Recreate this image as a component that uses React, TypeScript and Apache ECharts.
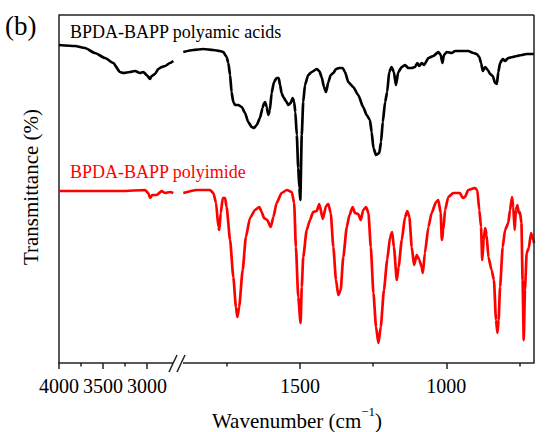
import React, { useEffect, useRef } from "react";
import * as echarts from "echarts";

// Tick values
const leftTicks = [4000, 3500, 3000];
const leftMinor = [3750, 3250];
const rightTicks = [1500, 1000];
const rightMinor = [1750, 1250, 750];

// BPDA-BAPP polyamic acids (wavenumber, transmittance a.u.)
const amicHigh: number[][] = [
  [4000, 318], [3818, 317], [3705, 315], [3591, 310], [3477, 305], [3383, 300],
  [3307, 291], [3269, 290], [3193, 291], [3136, 292], [3080, 290], [3042, 291],
  [3003, 288], [2966, 284], [2947, 287], [2909, 289], [2872, 294], [2833, 296],
  [2795, 297], [2739, 300], [2701, 302],
];
const amicLow: number[][] = [
  [1899, 311], [1865, 313], [1831, 314], [1796, 313], [1774, 312], [1762, 311],
  [1751, 306], [1745, 300], [1739, 288], [1734, 271], [1728, 261], [1722, 258],
  [1711, 258], [1699, 256], [1688, 250], [1677, 241], [1665, 236], [1657, 235],
  [1648, 238], [1637, 245], [1628, 255], [1623, 260], [1619, 261], [1614, 256],
  [1608, 248], [1603, 253], [1597, 270], [1589, 281], [1580, 285], [1573, 285],
  [1568, 278], [1563, 270], [1557, 266], [1548, 262], [1540, 258], [1532, 260],
  [1525, 265], [1520, 261], [1516, 251], [1511, 228], [1506, 195], [1502, 175],
  [1499, 163], [1494, 228], [1489, 261], [1483, 278], [1472, 288], [1460, 291],
  [1443, 294], [1434, 292], [1426, 286], [1418, 276], [1411, 271], [1403, 281],
  [1395, 288], [1386, 290], [1377, 294], [1366, 295], [1354, 295], [1346, 291],
  [1335, 281], [1318, 276], [1301, 268], [1284, 256], [1272, 248], [1261, 243],
  [1255, 231], [1249, 215], [1240, 208], [1229, 210], [1223, 221], [1217, 241],
  [1209, 261], [1202, 271], [1195, 291], [1187, 296], [1179, 291], [1172, 278],
  [1164, 291], [1152, 296], [1141, 298], [1130, 295], [1118, 295], [1107, 296],
  [1099, 300], [1092, 297], [1084, 300], [1076, 298], [1061, 305], [1044, 307],
  [1027, 311], [1019, 308], [1013, 300], [1008, 308], [998, 311], [981, 310],
  [970, 312], [953, 312], [925, 312], [907, 310], [896, 309], [887, 306],
  [881, 300], [875, 292], [867, 296], [858, 293], [850, 289], [841, 287],
  [833, 280], [827, 279], [822, 291], [816, 300], [807, 304], [799, 302],
  [788, 305], [773, 306], [759, 307], [742, 308], [725, 309], [700, 309],
];

// BPDA-BAPP polyimide
const imideHigh: number[][] = [
  [4000, 172], [3667, 172], [3288, 172], [3023, 173], [2985, 170], [2966, 165],
  [2940, 168], [2890, 168], [2833, 172], [2795, 170], [2739, 171], [2701, 170],
];
const imideLow: number[][] = [
  [1899, 170], [1853, 173], [1808, 173], [1796, 170], [1787, 160], [1779, 136],
  [1776, 133], [1771, 150], [1764, 165], [1756, 165], [1751, 156], [1739, 123],
  [1728, 86], [1719, 56], [1714, 46], [1708, 56], [1696, 93], [1685, 126],
  [1671, 145], [1654, 153], [1639, 156], [1631, 151], [1623, 145], [1612, 143],
  [1600, 136], [1591, 146], [1580, 160], [1563, 170], [1545, 173], [1528, 171],
  [1520, 160], [1514, 116], [1506, 66], [1498, 40], [1494, 76], [1489, 106],
  [1477, 133], [1466, 143], [1455, 151], [1443, 152], [1434, 159], [1422, 144],
  [1411, 157], [1403, 159], [1395, 150], [1386, 116], [1377, 83], [1369, 68],
  [1361, 73], [1352, 106], [1340, 136], [1331, 148], [1320, 156], [1312, 150],
  [1301, 149], [1292, 143], [1284, 153], [1274, 156], [1266, 150], [1258, 116],
  [1249, 70], [1240, 36], [1232, 20], [1224, 36], [1213, 73], [1202, 103],
  [1192, 126], [1185, 131], [1179, 116], [1169, 83], [1163, 96], [1152, 123],
  [1141, 146], [1133, 152], [1126, 146], [1118, 116], [1110, 98], [1101, 108],
  [1092, 103], [1084, 96], [1080, 90], [1073, 110], [1061, 136], [1050, 150],
  [1035, 161], [1027, 163], [1019, 150], [1015, 123], [1010, 133], [1004, 153],
  [993, 166], [976, 170], [953, 170], [944, 165], [936, 166], [925, 173],
  [902, 175], [894, 173], [887, 153], [881, 136], [877, 103], [872, 123],
  [867, 135], [862, 128], [856, 106], [845, 93], [837, 83], [830, 43],
  [825, 30], [821, 43], [816, 76], [807, 116], [799, 133], [788, 140],
  [782, 153], [775, 166], [771, 156], [766, 133], [762, 153], [757, 158],
  [752, 150], [748, 151], [743, 140], [739, 83], [735, 23], [731, 73],
  [725, 110], [718, 115], [710, 130], [702, 123], [700, 120],
];

const FONT = "'Liberation Serif', 'Times New Roman', serif";

export default function App() {
  const ref = useRef<HTMLDivElement>(null);
  useEffect(() => {
    if (!ref.current) return;
    const chart = echarts.init(ref.current, null, { renderer: "svg" });
    const axisColor = "#222";
    const baseX = (gridIndex: number, min: number, max: number, ticks: number[]) => ({
      type: "value" as const,
      gridIndex,
      min,
      max,
      inverse: true,
      position: "bottom" as const,
      axisLine: { show: true, lineStyle: { color: axisColor, width: 1.5 } },
      axisTick: { show: true, inside: false, length: 6, customValues: ticks, lineStyle: { color: axisColor, width: 1.5 } },
      axisLabel: {
        show: true, customValues: ticks, margin: 13, fontSize: 20, color: "#000", fontFamily: FONT,
        formatter: (v: number) => String(v),
      },
      splitLine: { show: false },
    });
    const minorX = (gridIndex: number, min: number, max: number, ticks: number[]) => ({
      type: "value" as const,
      gridIndex,
      min,
      max,
      inverse: true,
      position: "bottom" as const,
      axisLine: { show: false },
      axisTick: { show: true, inside: false, length: 3.5, customValues: ticks, lineStyle: { color: axisColor, width: 1.5 } },
      axisLabel: { show: false },
      splitLine: { show: false },
    });
    const lineSeries = (xi: number, yi: number, data: number[][], color: string, z: number) => ({
      type: "line" as const,
      xAxisIndex: xi,
      yAxisIndex: yi,
      data,
      showSymbol: false,
      symbol: "none",
      smooth: 0.2,
      smoothMonotone: "x" as const,
      lineStyle: { color, width: 2.7 },
      z,
    });
    chart.setOption({
      animation: false,
      backgroundColor: "#fff",
      grid: [
        { left: 59, top: 15, width: 114.4, height: 348 },
        { left: 183, top: 15, width: 351, height: 348 },
      ],
      xAxis: [
        baseX(0, 2700, 4000, leftTicks),
        minorX(0, 2700, 4000, leftMinor),
        baseX(1, 700, 1900, rightTicks),
        minorX(1, 700, 1900, rightMinor),
      ],
      yAxis: [
        {
          type: "value", gridIndex: 0, min: 0, max: 348,
          axisLine: { show: true, lineStyle: { color: axisColor, width: 1.5 } },
          axisTick: { show: false }, axisLabel: { show: false }, splitLine: { show: false },
        },
        {
          type: "value", gridIndex: 1, min: 0, max: 348, show: false,
          splitLine: { show: false },
        },
      ],
      series: [
        lineSeries(0, 0, imideHigh, "#ff0000", 2),
        lineSeries(2, 1, imideLow, "#ff0000", 2),
        lineSeries(0, 0, amicHigh, "#000000", 3),
        lineSeries(2, 1, amicLow, "#000000", 3),
      ],
      graphic: [
        { type: "line", shape: { x1: 59, y1: 15, x2: 534, y2: 15 }, style: { stroke: axisColor, lineWidth: 1.5 }, z: 10 },
        { type: "line", shape: { x1: 534, y1: 15, x2: 534, y2: 363 }, style: { stroke: axisColor, lineWidth: 1.5 }, z: 10 },
        { type: "rect", shape: { x: 173, y: 360, width: 10, height: 6 }, style: { fill: "#fff" }, z: 10 },
        { type: "line", shape: { x1: 169, y1: 372, x2: 177, y2: 355 }, style: { stroke: axisColor, lineWidth: 1.5 }, z: 11 },
        { type: "line", shape: { x1: 177, y1: 372, x2: 185, y2: 355 }, style: { stroke: axisColor, lineWidth: 1.5 }, z: 11 },
        { type: "text", left: 5, top: 12, style: { text: "(b)", fontSize: 27, fontFamily: FONT, fill: "#000" }, z: 10 },
        { type: "text", left: 70, top: 23, style: { text: "BPDA-BAPP polyamic acids", fontSize: 18, fontFamily: FONT, fill: "#000" }, z: 10 },
        { type: "text", left: 70, top: 163, style: { text: "BPDA-BAPP polyimide", fontSize: 18, fontFamily: FONT, fill: "#ff0000" }, z: 10 },
        {
          type: "text", x: 31, y: 187, rotation: Math.PI / 2,
          style: { text: "Transmittance (%)", fontSize: 21, fontFamily: FONT, fill: "#000", align: "center", verticalAlign: "middle" },
          z: 10,
        },
        {
          type: "text", x: 297, y: 418,
          style: {
            text: "{n|Wavenumber (cm}{s|−1}{n|)}",
            align: "center", verticalAlign: "middle",
            rich: {
              n: { fontSize: 21, fontFamily: FONT, fill: "#000", lineHeight: 26, verticalAlign: "bottom" },
              s: { fontSize: 13, fontFamily: FONT, fill: "#000", verticalAlign: "top" },
            },
          },
          z: 10,
        },
      ],
    });
    return () => chart.dispose();
  }, []);
  return <div ref={ref} style={{ width: 550, height: 432, position: "absolute", left: 0, top: 0 }} />;
}
